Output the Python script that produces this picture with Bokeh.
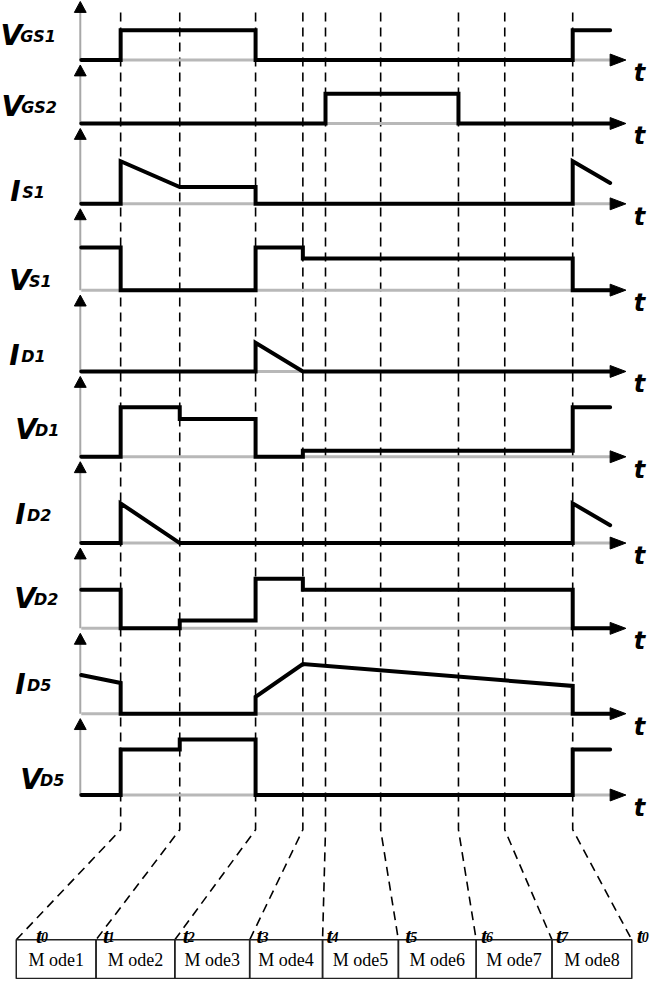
import numpy as np
from bokeh.plotting import figure
from bokeh.models import Range1d, ColumnDataSource
from bokeh.embed import file_html
from bokeh.resources import INLINE
from bokeh.core.properties import value

# ---------------- data ----------------
# switching instants (t1 ... t7, next t0) on the time axis
event_times = [120, 180, 257, 305, 328, 384, 463, 510, 579]
t_origin = 80
t_stop = 617

label_main = ["V", "V", "I", "V", "I", "V", "I", "V", "I", "V"]
label_sub = ["GS1", "GS2", "S1", "S1", "D1", "D1", "D2", "D2", "D5", "D5"]

vgs1_t = [80, 120, 120, 257, 257, 579, 579, 617]
vgs1_v = [0, 0, 30, 30, 0, 0, 30, 30]
vgs2_t = [80, 328, 328, 463, 463, 617]
vgs2_v = [0, 0, 30, 30, 0, 0]
is1_t = [80, 120, 120, 180, 257, 257, 579, 579, 617]
is1_v = [0, 0, 43, 17, 17, 0, 0, 43, 21]
vs1_t = [80, 120, 120, 257, 257, 305, 305, 579, 579, 617]
vs1_v = [43, 43, 0, 0, 43, 43, 32, 32, 0, 0]
id1_t = [80, 257, 257, 305, 617]
id1_v = [0, 0, 29, 0, 0]
vd1_t = [80, 120, 120, 180, 180, 257, 257, 305, 305, 579, 579, 617]
vd1_v = [0, 0, 50, 50, 38, 38, 0, 0, 6, 6, 50, 50]
id2_t = [80, 120, 120, 180, 579, 579, 617]
id2_v = [0, 0, 40, 0, 0, 40, 18]
vd2_t = [80, 120, 120, 180, 180, 257, 257, 305, 305, 579, 579, 617]
vd2_v = [39, 39, 0, 0, 8, 8, 50, 50, 39, 39, 0, 0]
id5_t = [80, 120, 120, 257, 257, 305, 579, 579, 617]
id5_v = [39, 31, 0, 0, 17, 50, 28, 0, 0]
vd5_t = [80, 120, 120, 180, 180, 257, 257, 579, 579, 617]
vd5_v = [0, 0, 46, 46, 56, 56, 0, 0, 46, 46]

wave_t = [vgs1_t, vgs2_t, is1_t, vs1_t, id1_t, vd1_t, id2_t, vd2_t, id5_t, vd5_t]
wave_v = [vgs1_v, vgs2_v, is1_v, vs1_v, id1_v, vd1_v, id2_v, vd2_v, id5_v, vd5_v]

mode_labels = ["M ode1", "M ode2", "M ode3", "M ode4", "M ode5", "M ode6", "M ode7", "M ode8"]
time_label_sub = ["0", "1", "2", "3", "4", "5", "6", "7", "0"]

# ---------------- layout ----------------
baselines = [60, 124, 205, 292, 374, 460, 547, 633, 719, 801]
label_x = [-2, -1, 8, 7, 7, 13, 13, 12, 13, 18]
label_y = [35, 107, 193, 282, 358, 433, 518, 603, 690, 785]
mode_edges = [14, 95, 175, 251, 325, 402, 481, 558, 639]
box_top, box_bottom = 947, 986
dash_top, dash_bend = 12, 836
tlabel_x = [34, 102, 183, 258, 329, 409, 486, 562, 644]
tlabel_y = 943

p = figure(width=651, height=979, x_range=Range1d(-2, 659), y_range=Range1d(987, 0),
           output_backend="svg", toolbar_location=None, x_axis_type=None, y_axis_type=None,
           min_border=0)
p.grid.visible = False
p.outline_line_color = None
p.background_fill_color = "white"

GRAY = "#b8b8b8"

# dashed timing lines
xs, ys = [], []
for t, bx in zip(event_times, mode_edges):
    xs.append([t, t, bx])
    ys.append([dash_top, dash_bend, box_top])
p.multi_line(xs, ys, line_color="black", line_width=1.6, line_dash="9 6")

for i, base in enumerate(baselines):
    top_tip = 1 if i == 0 else baselines[i - 1] + 5
    # vertical axis
    p.line([t_origin - 1, t_origin - 1], [base, top_tip + 8], line_color="#a8a8a8", line_width=2)
    p.patch([t_origin - 7, t_origin - 1, t_origin + 5], [top_tip + 11, top_tip, top_tip + 11],
            fill_color="black", line_color="black", line_width=1)
    # time axis
    p.line([t_origin, t_stop + 2], [base, base], line_color=GRAY, line_width=3)
    p.patch([t_stop, t_stop + 16, t_stop], [base - 6, base, base + 6],
            fill_color="black", line_color="black", line_width=1)
    p.text([641], [base + 13], text=["t"], text_font=value("DejaVu Sans"),
           text_font_style="bold italic", text_font_size="24px", text_baseline="alphabetic",
           text_color="black")
    # waveform
    y = [base - v for v in wave_v[i]]
    p.line(wave_t[i], y, line_color="black", line_width=4, line_join="miter", line_cap="round")
    # label
    off = 20 if label_main[i] == "V" else 12
    p.text([label_x[i]], [label_y[i]], text=[label_main[i]], text_font=value("DejaVu Sans"),
           text_font_style="bold italic", text_font_size="28px", text_baseline="alphabetic",
           text_color="black")
    p.text([label_x[i] + off], [label_y[i] + 1], text=[label_sub[i]], text_font=value("DejaVu Sans"),
           text_font_style="bold italic", text_font_size="16px", text_baseline="alphabetic",
           text_color="black")

# mode boxes
p.quad(left=mode_edges[:-1], right=mode_edges[1:], top=[box_top] * 8, bottom=[box_bottom] * 8,
       fill_color=None, line_color="#222222", line_width=1.5)
cx = [(a + b) / 2 for a, b in zip(mode_edges[:-1], mode_edges[1:])]
p.text(cx, [(box_top + box_bottom) / 2 + 1] * 8, text=mode_labels, text_font=value("Liberation Serif"),
       text_font_size="18px", text_align="center", text_baseline="middle", text_color="black")

# time labels
p.text(tlabel_x, [tlabel_y] * 9, text=["t"] * 9, text_font=value("Liberation Serif"),
       text_font_style="bold italic", text_font_size="22px", text_baseline="alphabetic",
       text_color="black")
p.text([x + 5 for x in tlabel_x], [tlabel_y + 1] * 9, text=time_label_sub,
       text_font=value("Liberation Serif"), text_font_style="bold italic", text_font_size="14px",
       text_baseline="alphabetic", text_color="black")

open("out.html", "w").write(file_html(p, INLINE))
